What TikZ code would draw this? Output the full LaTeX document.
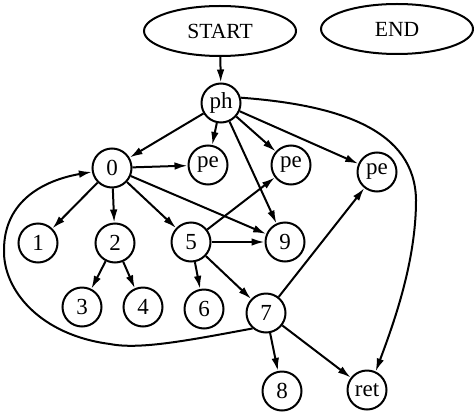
\documentclass[tikz,border=0pt]{standalone}
\usepackage{fontspec}
\setmainfont{Liberation Serif}
\usetikzlibrary{shapes.geometric,arrows.meta}

\begin{document}
\begin{tikzpicture}[x=0.5pt,y=-0.5pt,
    blk/.style={circle, draw, line width=1pt, minimum size=19.5pt, inner sep=0pt, font=\fontsize{11.5}{11.5}\selectfont},
    term/.style={ellipse, draw, line width=1pt, minimum width=76pt, minimum height=25pt, inner sep=0pt, font=\fontsize{10.8}{10.8}\selectfont},
    edge/.style={-{Latex[length=6.5pt,width=3.8pt]}, line width=1pt}]
            \useasboundingbox (0,0) rectangle (474,411);

            \node [term] (start)  at (220,31) {START};
            \node [term] (finish) at (397,29) {END};

            \node [blk] (ph)  at (221,103) {ph};
            \node [blk] (n0)  at (112,168) {0};
            \node [blk] (pea) at (208,165) {pe};
            \node [blk] (peb) at (291,165) {pe};
            \node [blk] (pec) at (377,172) {pe};
            \node [blk] (n1)  at (38,243)  {1};
            \node [blk] (n2)  at (115,243) {2};
            \node [blk] (n5)  at (191,242) {5};
            \node [blk] (n9)  at (285,242) {9};
            \node [blk] (n3)  at (82,307)  {3};
            \node [blk] (n4)  at (143,307) {4};
            \node [blk] (n6)  at (204,309) {6};
            \node [blk] (n7)  at (266,313) {7};
            \node [blk] (n8)  at (282,391) {8};
            \node [blk] (ret) at (367,390) {ret};

            \draw [edge] (start) -- (ph);
            \draw [edge] (ph) -- (n0);
            \draw [edge] (ph) -- (pea);
            \draw [edge] (ph) -- (peb);
            \draw [edge] (ph) -- (pec);
            \draw [edge] (ph) -- (n9);
            \draw [edge] (ph.15) .. controls (340,105) and (415,130) .. (416,200)
                                 .. controls (416,260) and (395,320) .. (ret.65);

            \draw [edge] (n0) -- (pea);
            \draw [edge] (n0) -- (n1);
            \draw [edge] (n0) -- (n2);
            \draw [edge] (n0) -- (n5);
            \draw [edge] (n0) -- (n9);
            \draw [edge] (n2) -- (n3);
            \draw [edge] (n2) -- (n4);

            \draw [edge] (n5) -- (peb);
            \draw [edge] (n5) -- (n9);
            \draw [edge] (n5) -- (n6);
            \draw [edge] (n5) -- (n7);

            \draw [edge] (n7) -- (n8);
            \draw [edge] (n7) -- (ret);
            \draw [edge] (n7) -- (pec);
            \draw [edge] (n7.229) .. controls (190,340) and (140,350) .. (110,344)
                                  .. controls (40,335) and (3,290) .. (4,250)
                                  .. controls (4,200) and (45,180) .. (n0.191);
        \end{tikzpicture}
\end{document}
